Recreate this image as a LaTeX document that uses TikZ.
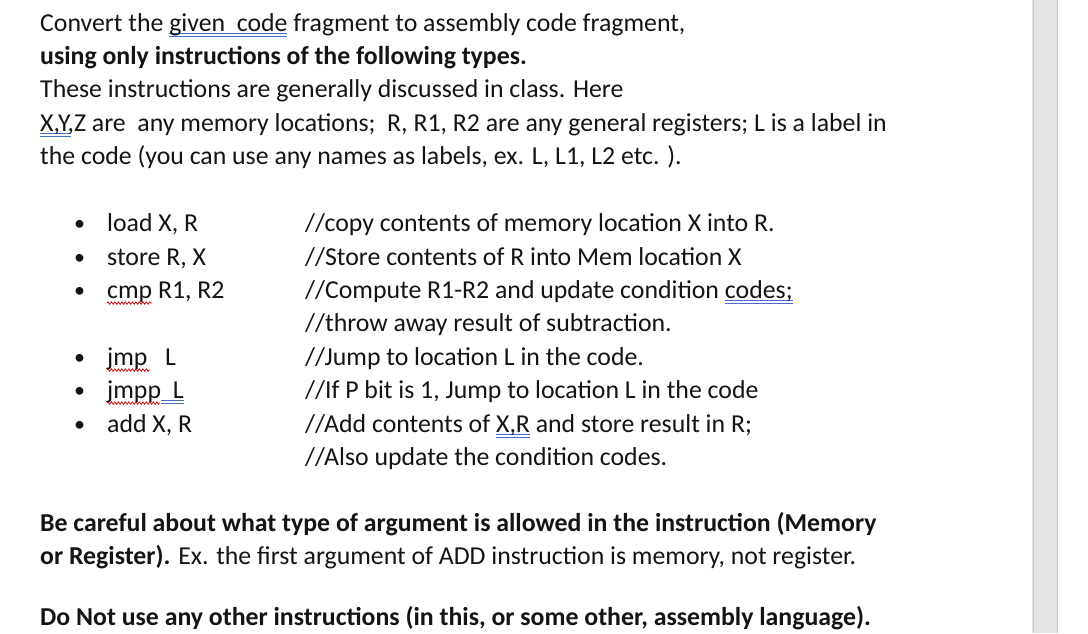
\documentclass[tikz,border=0pt]{standalone}
\usepackage{fontspec}
\setmainfont{Carlito}
\usetikzlibrary{decorations.pathmorphing}
\definecolor{ulc}{RGB}{70,110,200}
\newcommand\dblu[1]{\setbox0\hbox{#1}\rlap{\color{ulc}\rule[-2.8pt]{\wd0}{0.8pt}}\rlap{\color{ulc}\rule[-5.8pt]{\wd0}{0.8pt}}#1}
\newcommand\smbul{\raisebox{1pt}{\fontsize{22}{24}\selectfont•}}
\begin{document}
\begin{tikzpicture}[x=1pt,y=-1pt,
  t/.style={anchor=base west,inner sep=0pt,font=\fontsize{25.8}{30}\selectfont,text=black!92},
  sq/.style={draw=red!80!black,line width=0.7pt,decorate,decoration={zigzag,amplitude=1.3pt,segment length=3.5pt}}]
\useasboundingbox (0,0) rectangle (1088,633);
\fill[white] (0,0) rectangle (1088,633);
\fill[gray!22] (1032,0) rectangle (1058,633);
\draw[gray!45,line width=1pt] (1033,0) -- (1033,633) (1057,0) -- (1057,633);
% paragraph
\node[t] (l1) at (40,31) {Convert the \dblu{given\ \ code} fragment to assembly code fragment,};
\node[t] (l2) at (40,64) {\bfseries using only instructions of the following types.};
\node[t] (l3) at (40,97) {These instructions are generally discussed in class. Here};
\node[t] (l4) at (40,131) {\dblu{X,Y},Z are\ \ any memory locations;\ \ R, R1, R2 are any general registers; L is a label in};
\node[t] (l5) at (40,164) {the code (you can use any names as labels, ex. L, L1, L2 etc. ).};
% list
\foreach \y/\a/\b [count=\i] in {231/load X{,} R/{//copy contents of memory location X into R.},
  265/store R{,} X/{//Store contents of R into Mem location X},
  298/cmp R1{,} R2/{//Compute R1-R2 and update condition \dblu{codes;}},
  365/jmp\ \ \ L/{//Jump to location L in the code.},
  398/jmpp\dblu{\ \ L}/{//If P bit is 1, Jump to location L in the code},
  432/add X{,} R/{//Add contents of \dblu{X,R} and store result in R;}}{
  \node[t] (b\i) at (74,\y) {\smbul};
  \node[t] (i\i) at (107,\y) {\a};
  \node[t] (c\i) at (305,\y) {\b};
}
\node[t] (c3b) at (305,331) {//throw away result of subtraction.};
\node[t] (c6b) at (305,465) {//Also update the condition codes.};
\node[t] (p1) at (40,531) {\bfseries Be careful about what type of argument is allowed in the instruction (Memory};
\node[t] (p2) at (40,564) {{\bfseries or Register).} Ex. the first argument of ADD instruction is memory, not register.};
\node[t] (p3) at (40,625) {\bfseries Do Not use any other instructions (in this, or some other, assembly language).};
% spelling marks
\draw[sq] (107,303) -- (152,303);
\draw[sq] (107,370) -- (150,370);
\draw[sq] (107,403) -- (160,403);
\end{tikzpicture}
\end{document}
